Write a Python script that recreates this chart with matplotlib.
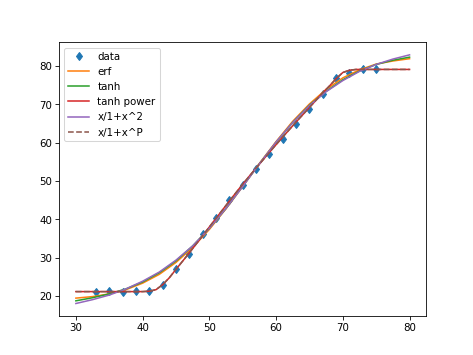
import matplotlib
matplotlib.use('Agg')
import matplotlib.pyplot as plt

# measured points
x_data = [33, 35, 37, 39, 41, 43, 45, 47, 49, 51, 53, 55, 57, 59, 61, 63, 65, 67, 69, 71, 73, 75]
y_data = [21.2, 21.3, 21.2, 21.3, 21.3, 22.9, 27.0, 31.0, 36.1, 40.3, 45.0, 49.0, 53.1, 57.0, 61.1, 65.0, 68.9, 72.8, 76.9, 78.2, 79.3, 79.3]

# fitted curves
x_fit = [30, 32.5, 35, 37.5, 40, 42.5, 45, 47.5, 50, 52.5, 55, 57.5, 60, 62.5, 65, 67.5, 70, 72.5, 75, 77.5, 80]
y_erf = [19.5, 19.9, 20.6, 21.7, 23.4, 25.7, 28.8, 32.7, 37.4, 42.8, 48.6, 54.6, 60.3, 65.6, 70.1, 73.9, 76.9, 79.0, 80.5, 81.3, 81.9]
y_tanh = [18.8, 19.6, 20.6, 21.9, 23.7, 26.1, 29.2, 33.1, 37.7, 42.9, 48.7, 54.5, 60.1, 65.3, 69.8, 73.4, 76.4, 78.7, 80.4, 81.5, 82.3]
y_alg = [18.1, 19.1, 20.3, 21.9, 23.9, 26.3, 29.4, 33.1, 37.7, 42.9, 48.6, 54.5, 60.2, 65.3, 69.7, 73.3, 76.2, 78.6, 80.4, 81.8, 82.9]

x_pow = [30, 35, 40, 41, 42, 43, 44, 45, 47, 49, 51, 53, 55, 57, 59, 61, 63, 65, 67, 68, 69, 70, 71, 72, 73, 75, 80]
y_tanh_pow = [21.2, 21.2, 21.2, 21.3, 21.7, 23.0, 24.8, 27.0, 31.3, 35.8, 40.3, 44.8, 49.2, 53.4, 57.5, 61.5, 65.4, 69.2, 73.0, 74.8, 76.7, 78.3, 78.9, 79.1, 79.1, 79.1, 79.1]
y_alg_pow = [21.2, 21.2, 21.2, 21.3, 21.7, 23.0, 24.8, 27.0, 31.3, 35.8, 40.3, 44.8, 49.2, 53.4, 57.5, 61.5, 65.4, 69.2, 73.0, 74.8, 76.7, 78.3, 78.9, 79.1, 79.1, 79.1, 79.1]

fig = plt.figure(figsize=(6.4, 4.8), dpi=74)
plt.plot(x_data, y_data, 'd', label='data')
plt.plot(x_fit, y_erf, label='erf')
plt.plot(x_fit, y_tanh, label='tanh')
plt.plot(x_pow, y_tanh_pow, label='tanh power')
plt.plot(x_fit, y_alg, label='x/1+x^2')
plt.plot(x_pow, y_alg_pow, '--', label='x/1+x^P')
plt.legend(loc='upper left')
plt.savefig('out.png', dpi=74)
